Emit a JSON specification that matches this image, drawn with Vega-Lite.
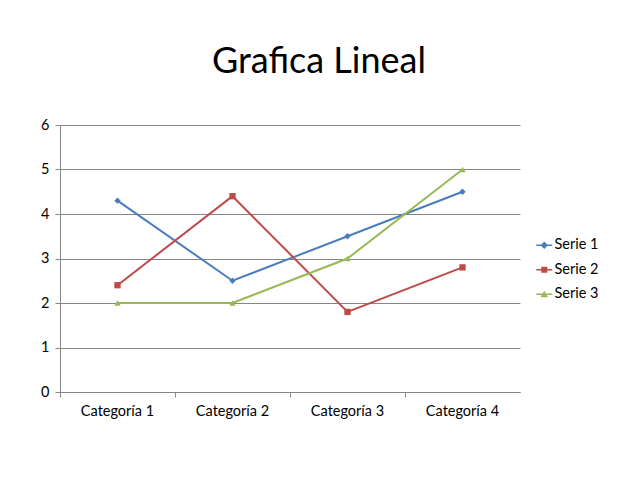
{
  "$schema": "https://vega.github.io/schema/vega-lite/v6.json",
  "width": 460,
  "height": 267,
  "autosize": {"type": "none"},
  "padding": {"left": 60, "top": 125, "right": 118, "bottom": 87},
  "background": "white",
  "title": {
    "text": "Grafica Lineal",
    "font": "Lato",
    "fontSize": 36,
    "fontWeight": "normal",
    "color": "black",
    "anchor": "middle",
    "dx": 29,
    "offset": 36
  },
  "data": {
    "values": [
      {"cat": "Categoría 1", "serie": "Serie 1", "v": 4.3},
      {"cat": "Categoría 2", "serie": "Serie 1", "v": 2.5},
      {"cat": "Categoría 3", "serie": "Serie 1", "v": 3.5},
      {"cat": "Categoría 4", "serie": "Serie 1", "v": 4.5},
      {"cat": "Categoría 1", "serie": "Serie 2", "v": 2.4},
      {"cat": "Categoría 2", "serie": "Serie 2", "v": 4.4},
      {"cat": "Categoría 3", "serie": "Serie 2", "v": 1.8},
      {"cat": "Categoría 4", "serie": "Serie 2", "v": 2.8},
      {"cat": "Categoría 1", "serie": "Serie 3", "v": 2},
      {"cat": "Categoría 2", "serie": "Serie 3", "v": 2},
      {"cat": "Categoría 3", "serie": "Serie 3", "v": 3},
      {"cat": "Categoría 4", "serie": "Serie 3", "v": 5}
    ]
  },
  "encoding": {
    "x": {
      "field": "cat",
      "type": "nominal",
      "title": null,
      "scale": {"type": "band", "paddingInner": 0, "paddingOuter": 0},
      "axis": {
        "labelAngle": 0,
        "bandPosition": 0,
        "labelPadding": 7,
        "tickSize": 5,
        "domainColor": "#868686",
        "tickColor": "#868686",
        "grid": false
      }
    },
    "y": {
      "field": "v",
      "type": "quantitative",
      "title": null,
      "scale": {"domain": [0, 6]},
      "axis": {
        "values": [0, 1, 2, 3, 4, 5, 6],
        "tickSize": 5,
        "labelPadding": 6,
        "domain": true,
        "domainColor": "#868686",
        "tickColor": "#868686",
        "gridColor": "#868686",
        "grid": true
      }
    },
    "color": {
      "field": "serie",
      "type": "nominal",
      "title": null,
      "scale": {"domain": ["Serie 1", "Serie 2", "Serie 3"], "range": ["#4A7EBB", "#BE4B48", "#98B954"]},
      "legend": {
        "symbolSize": 100,
        "symbolStrokeWidth": 0,
        "labelOffset": 3,
        "encode": {
          "symbols": {
            "update": {
              "shape": {
                "signal": "datum.value === 'Serie 1' ? 'M-1.6,-0.15H1.6V0.15H-1.6Z M0,-0.75L0.75,0L0,0.75L-0.75,0Z' : datum.value === 'Serie 2' ? 'M-1.6,-0.15H1.6V0.15H-1.6Z M-0.6,-0.6H0.6V0.6H-0.6Z' : 'M-1.6,-0.15H1.6V0.15H-1.6Z M0,-0.7L0.75,0.6H-0.75Z'"
              },
              "fill": {"scale": "color", "field": "value"},
              "fillOpacity": {"value": 1}
            }
          }
        }
      }
    }
  },
  "layer": [
    {
      "mark": {"type": "line", "strokeWidth": 2}
    },
    {
      "transform": [{"filter": "datum.serie === 'Serie 1'"}],
      "mark": {"type": "point", "filled": true, "opacity": 1, "size": 40, "shape": "diamond"}
    },
    {
      "transform": [{"filter": "datum.serie === 'Serie 2'"}],
      "mark": {"type": "point", "filled": true, "opacity": 1, "size": 40, "shape": "square"}
    },
    {
      "transform": [{"filter": "datum.serie === 'Serie 3'"}],
      "mark": {"type": "point", "filled": true, "opacity": 1, "size": 40, "shape": "triangle-up"}
    }
  ],
  "config": {
    "view": {"stroke": null},
    "font": "Lato",
    "axis": {"labelFont": "Lato", "labelFontSize": 14.5, "labelColor": "black"},
    "legend": {
      "orient": "none",
      "legendX": 477,
      "legendY": 113,
      "padding": 0,
      "labelFont": "Lato",
      "labelFontSize": 14.5,
      "labelColor": "black",
      "rowPadding": 9.5
    }
  }
}
